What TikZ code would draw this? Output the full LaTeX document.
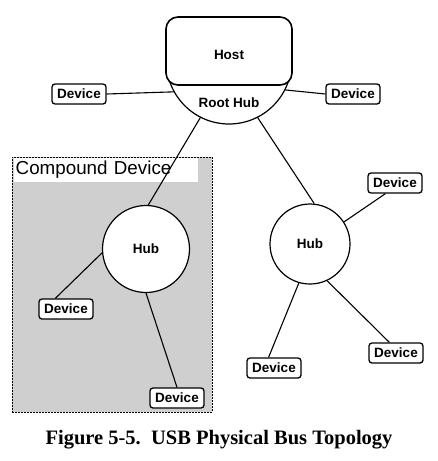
\documentclass[tikz,border=0pt]{standalone}
\usepackage{fontspec}
\setmainfont{Liberation Sans}
\newfontfamily\capfont{Liberation Serif}
\begin{document}
\begin{tikzpicture}[x=1pt,y=-1pt,
  devbox/.style={draw,line width=1.3pt,rounded corners=3pt,fill=white,inner sep=0pt,minimum width=54pt,minimum height=20pt,font=\bfseries\fontsize{13.5}{13.5}\selectfont},
  hubc/.style={draw,circle,line width=1.2pt,fill=white,inner sep=0pt,font=\bfseries\fontsize{13.5}{13.5}\selectfont},
  link/.style={line width=1.1pt}]
\useasboundingbox (0,0) rectangle (438,461);
% compound device area
\node[draw,dashed,dash pattern=on 2pt off 1pt,fill=black!19,line width=0.8pt,minimum width=200pt,minimum height=255pt,inner sep=0pt] (comp) at (112,284.5) {};
\node[fill=white,minimum width=184pt,minimum height=24pt,inner sep=0pt,anchor=north west,text width=182pt,align=left,font=\fontsize{18.8}{18.8}\selectfont] (complabel) at (13.5,157.5) {\hspace{1pt}Compound Device};
% root hub and host
\node[circle,minimum size=125.2pt,inner sep=0pt] (roothub) at (229,61.4) {};
\begin{scope}
\clip (0,75) rectangle (438,140);
\draw[line width=1.2pt,fill=white] (roothub.center) circle[radius=62.6pt];
\end{scope}
\node[draw,line width=1.6pt,rounded corners=12pt,fill=white,minimum width=126pt,minimum height=68pt,inner sep=0pt] (host) at (229,51) {};
\node[font=\bfseries\fontsize{13.5}{13.5}\selectfont] (hostlabel) at (229,55) {Host};
\node[font=\bfseries\fontsize{13.5}{13.5}\selectfont] (rhlabel) at (229,103) {Root Hub};
% hubs
\node[hubc,minimum size=87pt] (hubL) at (146,249) {Hub};
\node[hubc,minimum size=80pt] (hubR) at (310,244) {Hub};
% devices
\node[devbox] (d1) at (79,94) {Device};
\node[devbox] (d2) at (353,94) {Device};
\node[devbox] (d3) at (66,309) {Device};
\node[devbox] (d4) at (177,398) {Device};
\node[devbox] (d5) at (395,183) {Device};
\node[devbox] (d6) at (396,353) {Device};
\node[devbox] (d7) at (274,368) {Device};
% links
\draw[link] (d1.east) -- (roothub.209);
\draw[link] (d2.west) -- (roothub.333);
\draw[link] (roothub.243) -- (hubL.87);
\draw[link] (roothub.297) -- (hubR.84);
\draw[link] (hubL.185) -- (d3.135);
\draw[link] (hubL.270) -- (d4.north);
\draw[link] (hubR.33) -- (d5.228);
\draw[link] (hubR.295) -- (d6.122);
\draw[link] (hubR.254) -- (d7.117);
% caption
\node[font=\capfont\bfseries\fontsize{20.5}{20.5}\selectfont] (caption) at (219,440) {Figure 5-5.\ \ USB Physical Bus Topology};
\end{tikzpicture}
\end{document}
